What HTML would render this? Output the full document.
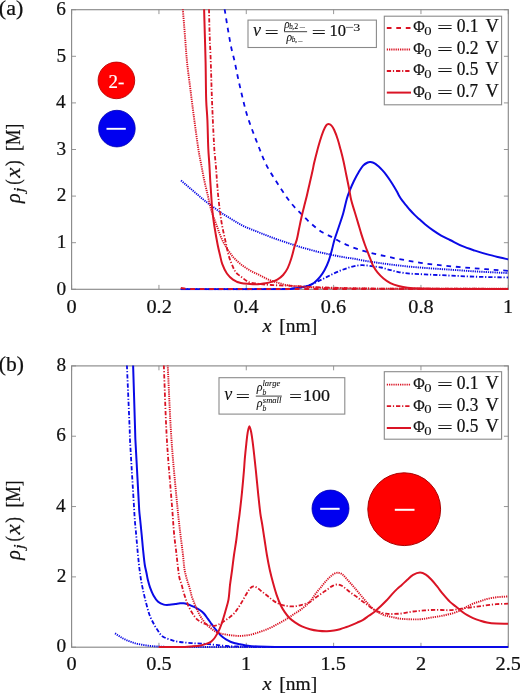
<!DOCTYPE html><html><head><meta charset="utf-8"><title>Density profiles</title>
<style>html,body{margin:0;padding:0;background:#fff;overflow:hidden;width:520px;height:695px;}svg{display:block;}text{font-family:'Liberation Serif', serif;fill:#111;stroke:#111;stroke-width:0.22px;}.it{font-style:italic;}</style></head><body>
<svg width="520" height="695" viewBox="0 0 520 695">
<rect width="520" height="695" fill="#fff"/>
<defs><clipPath id="ca"><rect x="71.6" y="9.2" width="436.7" height="281"/></clipPath><clipPath id="cb"><rect x="71.6" y="365.4" width="436.7" height="282.6"/></clipPath></defs>
<text transform="translate(-1.17,14.6) scale(1.101,1)" font-size="20">(a)</text>
<rect x="71.6" y="9.7" width="436.7" height="279.6" fill="none" stroke="#8a8a8a" stroke-width="1.15"/>
<path d="M71.6,289.3v-4.4M71.6,9.7v4.4" stroke="#8a8a8a" stroke-width="0.9"/>
<path d="M158.94,289.3v-4.4M158.94,9.7v4.4" stroke="#8a8a8a" stroke-width="0.9"/>
<path d="M246.28,289.3v-4.4M246.28,9.7v4.4" stroke="#8a8a8a" stroke-width="0.9"/>
<path d="M333.62,289.3v-4.4M333.62,9.7v4.4" stroke="#8a8a8a" stroke-width="0.9"/>
<path d="M420.96,289.3v-4.4M420.96,9.7v4.4" stroke="#8a8a8a" stroke-width="0.9"/>
<path d="M508.3,289.3v-4.4M508.3,9.7v4.4" stroke="#8a8a8a" stroke-width="0.9"/>
<path d="M71.6,289.3h4.4M508.3,289.3h-4.4" stroke="#8a8a8a" stroke-width="0.9"/>
<path d="M71.6,242.7h4.4M508.3,242.7h-4.4" stroke="#8a8a8a" stroke-width="0.9"/>
<path d="M71.6,196.1h4.4M508.3,196.1h-4.4" stroke="#8a8a8a" stroke-width="0.9"/>
<path d="M71.6,149.5h4.4M508.3,149.5h-4.4" stroke="#8a8a8a" stroke-width="0.9"/>
<path d="M71.6,102.9h4.4M508.3,102.9h-4.4" stroke="#8a8a8a" stroke-width="0.9"/>
<path d="M71.6,56.3h4.4M508.3,56.3h-4.4" stroke="#8a8a8a" stroke-width="0.9"/>
<path d="M71.6,9.7h4.4M508.3,9.7h-4.4" stroke="#8a8a8a" stroke-width="0.9"/>
<g clip-path="url(#ca)">
<path d="M180.8,289.2C207.2,289.2 233.6,289.27 260,289.2C270,289.17 280.03,289.36 290,288.9C293.86,288.72 297.69,287.98 301.5,287.3C303.86,286.88 306.26,286.41 308.5,285.6C310.49,284.88 312.52,283.97 314.2,282.7C316.35,281.07 318.28,279.01 320,276.9C321.74,274.77 323.29,272.42 324.6,270C326.19,267.06 327.53,263.94 328.7,260.8C329.83,257.77 330.64,254.62 331.5,251.5C332.54,247.69 333.29,243.79 334.4,240C335.62,235.86 337.14,231.8 338.5,227.7C340.04,223.07 341.75,218.49 343.1,213.8C344.55,208.75 345.46,203.55 346.9,198.5C347.69,195.75 348.74,193.06 349.8,190.4C351.04,187.3 352.34,184.2 353.8,181.2C355.24,178.24 356.81,175.33 358.5,172.5C359.91,170.13 361.26,167.6 363.1,165.6C364.33,164.26 366.06,163.26 367.7,162.5C368.56,162.1 369.65,161.99 370.6,162.1C371.95,162.26 373.41,162.64 374.6,163.3C376.11,164.14 377.4,165.43 378.7,166.6C379.96,167.73 381.16,168.95 382.3,170.2C383.66,171.68 384.97,173.21 386.2,174.8C387.54,176.54 388.78,178.37 390,180.2C391.31,182.17 392.57,184.18 393.8,186.2C394.87,187.95 395.91,189.71 396.9,191.5C397.71,192.97 398.35,194.55 399.2,196C400.15,197.62 401.18,199.2 402.3,200.7C403.51,202.33 404.9,203.83 406.2,205.4C407.47,206.93 408.68,208.51 410,210C411.48,211.68 413.01,213.33 414.6,214.9C416.08,216.36 417.65,217.72 419.2,219.1C421.12,220.82 423,222.58 425,224.2C427.64,226.34 430.32,228.44 433.1,230.4C435.72,232.24 438.41,234.02 441.2,235.6C444.05,237.22 447.06,238.54 450,240C454.16,242.07 458.23,244.39 462.5,246.2C466.56,247.92 470.8,249.22 475,250.6C479.14,251.96 483.3,253.24 487.5,254.4C491.64,255.54 495.83,256.5 500,257.5C502.76,258.16 505.53,258.77 508.3,259.4" fill="none" stroke="#0a0ae6" stroke-width="2.0" stroke-linejoin="round"/>
<path d="M180.8,289.2C207.2,289.2 233.6,289.32 260,289.2C270,289.15 280.02,289.16 290,288.7C293.85,288.52 297.7,287.94 301.5,287.3C303.86,286.9 306.24,286.38 308.5,285.6C311.24,284.65 313.86,283.33 316.5,282.1C319.23,280.83 321.9,279.44 324.6,278.1C327.67,276.57 330.7,274.95 333.8,273.5C336.46,272.25 339.16,271.07 341.9,270C344.56,268.97 347.27,268.03 350,267.2C351.9,266.63 353.84,266.14 355.8,265.8C357.68,265.47 359.6,265.25 361.5,265.2C363.43,265.15 365.37,265.32 367.3,265.5C369.24,265.68 371.17,266.02 373.1,266.3C375.8,266.69 378.54,266.92 381.2,267.5C383.91,268.09 386.52,269.09 389.2,269.8C392.29,270.62 395.36,271.53 398.5,272.1C402.3,272.79 406.15,273.27 410,273.6C414.98,274.03 420,274.15 425,274.4C433.6,274.82 442.2,275.2 450.8,275.6C458.87,275.97 466.93,276.43 475,276.7C486.1,277.07 497.2,277.23 508.3,277.5" fill="none" stroke="#0a0ae6" stroke-width="1.8" stroke-dasharray="4.3 1.8 1.2 1.9" stroke-linejoin="round"/>
<path d="M181,180.5C182.67,181.93 184.33,183.37 186,184.8C187.8,186.34 189.6,187.87 191.4,189.4C193.2,190.93 195,192.47 196.8,194C198.6,195.53 200.37,197.1 202.2,198.6C203.94,200.03 205.71,201.42 207.5,202.8C209.05,203.99 210.63,205.14 212.2,206.3C213.89,207.54 215.58,208.79 217.3,210C219.22,211.35 221.13,212.72 223.1,214C224.97,215.22 226.9,216.34 228.8,217.5C230.73,218.67 232.66,219.85 234.6,221C236.53,222.15 238.43,223.33 240.4,224.4C242.3,225.43 244.23,226.41 246.2,227.3C248.07,228.14 250,228.84 251.9,229.6C254.6,230.67 257.3,231.74 260,232.8C263.83,234.31 267.64,235.86 271.5,237.3C275.34,238.73 279.22,240.07 283.1,241.4C286.92,242.71 290.75,243.98 294.6,245.2C298.45,246.42 302.31,247.61 306.2,248.7C310.78,249.98 315.38,251.19 320,252.3C323.81,253.22 327.66,254 331.5,254.8C335.36,255.6 339.22,256.43 343.1,257.1C346.92,257.76 350.78,258.16 354.6,258.8C356.91,259.19 359.19,259.79 361.5,260.2C365.36,260.89 369.23,261.51 373.1,262.1C376.93,262.68 380.76,263.19 384.6,263.7C388.46,264.22 392.33,264.74 396.2,265.2C400.79,265.74 405.39,266.28 410,266.7C416.66,267.31 423.33,267.81 430,268.3C436.93,268.81 443.87,269.22 450.8,269.7C458.87,270.26 466.93,270.92 475,271.4C486.09,272.06 497.2,272.53 508.3,273.1" fill="none" stroke="#0a0ae6" stroke-width="1.9" stroke-dasharray="1.25 0.95" stroke-linejoin="round"/>
<path d="M224.6,9C225.77,16.13 226.87,23.28 228.1,30.4C229.17,36.55 230.22,42.7 231.5,48.8C232.32,52.7 233.53,56.51 234.4,60.4C235.67,66.08 236.67,71.81 237.9,77.5C239.17,83.35 240.51,89.18 241.9,95C243.18,100.38 244.43,105.77 245.9,111.1C246.9,114.74 248.05,118.34 249.3,121.9C251.51,128.18 253.85,134.41 256.3,140.6C259.52,148.71 262.41,157.01 266.3,164.8C269.78,171.78 274.26,178.26 278.4,184.9C280.5,188.26 282.75,191.53 285,194.8C286.49,196.96 287.98,199.13 289.6,201.2C291.45,203.57 293.37,205.89 295.4,208.1C297.23,210.09 299.28,211.88 301.2,213.8C303.52,216.12 305.7,218.57 308.1,220.8C311.07,223.57 314.15,226.25 317.3,228.8C318.88,230.08 320.54,231.29 322.3,232.3C325.27,233.99 328.47,235.3 331.5,236.9C334.64,238.56 337.63,240.51 340.8,242.1C343.8,243.61 346.89,244.93 350,246.2C353.03,247.43 356.09,248.6 359.2,249.6C362.62,250.7 366.12,251.58 369.6,252.5C372.66,253.31 375.72,254.08 378.8,254.8C381.89,255.52 385,256.13 388.1,256.8C391.17,257.46 394.22,258.2 397.3,258.8C400.75,259.47 404.23,260.01 407.7,260.6C413.06,261.51 418.41,262.6 423.8,263.3C433.51,264.56 443.26,265.54 453,266.5C459.49,267.14 466,267.57 472.5,268.1C478.97,268.63 485.43,269.21 491.9,269.7C497.36,270.11 502.83,270.43 508.3,270.8" fill="none" stroke="#0a0ae6" stroke-width="1.8" stroke-dasharray="4.7 4.8" stroke-linejoin="round"/>
<path d="M182.8,9C183.47,17.27 184.14,25.53 184.8,33.8C185.57,43.43 186.14,53.09 187.1,62.7C187.91,70.79 189.09,78.83 190.1,86.9C191.22,95.87 192.31,104.84 193.5,113.8C195.11,125.87 196.67,137.96 198.5,150C199.27,155.03 200.35,160 201.3,165C202.25,170 203.14,175.02 204.2,180C205.27,185.02 206.53,190 207.7,195C208.87,200 209.76,205.08 211.2,210C212.69,215.08 214.66,220.03 216.5,225C218.36,230.03 219.91,235.22 222.3,240C224.91,245.22 227.96,250.37 231.5,255C234.13,258.44 237.46,261.42 240.8,264.2C243.63,266.56 246.82,268.53 250,270.4C252.95,272.13 256.13,273.47 259.2,275C262.3,276.54 265.31,278.27 268.5,279.6C271.48,280.84 274.6,281.79 277.7,282.7C280.73,283.59 283.79,284.46 286.9,285C291.23,285.76 295.62,286.24 300,286.6C306.65,287.14 313.33,287.46 320,287.7C330,288.06 340,288.27 350,288.4C366.67,288.61 383.33,288.66 400,288.7C436.1,288.79 472.2,288.77 508.3,288.8" fill="none" stroke="#da1425" stroke-width="1.9" stroke-dasharray="1.25 0.95" stroke-linejoin="round"/>
<path d="M209,9C209.2,17.27 209.32,25.54 209.6,33.8C209.89,42.54 210.39,51.26 210.7,60C211.19,73.46 211.45,86.94 212,100.4C212.65,116.54 213.35,132.68 214.3,148.8C214.62,154.21 215.35,159.6 215.8,165C216.22,170 216.52,175 216.9,180C217.28,185 217.62,190.01 218.1,195C218.58,200.01 219.15,205.01 219.8,210C220.45,215.01 221.08,220.03 222,225C223.24,231.7 224.86,238.34 226.3,245C227.02,248.34 227.55,251.73 228.5,255C229.48,258.4 230.71,261.75 232.1,265C233.21,267.58 234.33,270.3 236,272.5C237.23,274.13 239.14,275.25 240.8,276.5C243.3,278.38 245.7,280.63 248.5,281.9C250.84,282.96 253.61,283.15 256.2,283.5C261.27,284.18 266.39,284.65 271.5,285C277.66,285.42 283.84,285.5 290,285.8C296.67,286.13 303.33,286.62 310,286.9C320,287.32 330,287.66 340,287.9C353.33,288.22 366.67,288.53 380,288.6C422.77,288.83 465.53,288.73 508.3,288.8" fill="none" stroke="#da1425" stroke-width="1.8" stroke-dasharray="4.3 1.8 1.2 1.9" stroke-linejoin="round"/>
<path d="M204.1,9C204.33,17.27 204.57,25.53 204.8,33.8C205.07,43.43 205.4,53.07 205.6,62.7C205.86,75.27 205.81,87.84 206.2,100.4C206.41,106.94 207.12,113.46 207.4,120C207.82,129.59 207.87,139.21 208.3,148.8C208.54,154.21 209.07,159.6 209.4,165C209.7,170 209.9,175 210.2,180C210.5,185 210.85,190 211.2,195C211.55,200 211.8,205.01 212.3,210C212.8,215.01 213.43,220.02 214.2,225C215.23,231.69 216.42,238.36 217.7,245C218.35,248.36 219.2,251.67 220,255C220.74,258.07 221.2,261.26 222.3,264.2C223.5,267.42 224.95,270.7 226.9,273.5C228.52,275.83 230.67,278.01 233,279.6C235.3,281.17 238.09,282.3 240.8,283C243.75,283.76 246.93,283.76 250,284C251.99,284.16 254,284.2 256,284.2C257.33,284.2 258.67,284.12 260,284C261.94,283.82 263.89,283.65 265.8,283.3C267.72,282.95 269.64,282.5 271.5,281.9C273.48,281.26 275.53,280.65 277.3,279.6C279.4,278.35 281.46,276.81 283.1,275C284.93,272.97 286.47,270.56 287.7,268.1C289.17,265.16 290.21,261.96 291.2,258.8C292.51,254.66 293.39,250.38 294.6,246.2C295.29,243.84 296.28,241.57 296.9,239.2C297.68,236.17 298.16,233.07 298.8,230C299.6,226.17 300.34,222.32 301.2,218.5C302.07,214.62 303.05,210.76 304,206.9C304.95,203.06 305.98,199.24 306.9,195.4C307.91,191.18 308.83,186.93 309.8,182.7C310.77,178.47 311.77,174.24 312.7,170C313.17,167.84 313.5,165.65 314,163.5C314.9,159.62 315.88,155.75 316.9,151.9C317.82,148.42 318.74,144.94 319.8,141.5C320.87,138.04 321.96,134.56 323.3,131.2C324.1,129.2 324.98,127.1 326.2,125.4C326.71,124.7 327.71,124 328.5,124C329.41,124 330.61,124.67 331.3,125.4C332.51,126.67 333.44,128.36 334.2,130C335.57,132.96 336.68,136.08 337.7,139.2C338.82,142.62 339.68,146.12 340.6,149.6C341.62,153.45 342.63,157.31 343.5,161.2C344.53,165.78 345.36,170.4 346.3,175C347.26,179.73 348.27,184.46 349.2,189.2C349.9,192.79 350.34,196.45 351.2,200C352.14,203.88 353.46,207.67 354.6,211.5C355.76,215.37 356.94,219.23 358.1,223.1C359.24,226.93 360.3,230.79 361.5,234.6C362.6,238.09 363.77,241.56 365,245C366.1,248.09 367.32,251.14 368.5,254.2C369.25,256.14 370.03,258.07 370.8,260C371.57,261.93 372.11,263.98 373.1,265.8C374.41,268.22 375.96,270.57 377.7,272.7C379.42,274.81 381.39,276.78 383.5,278.5C385.63,280.24 387.95,281.87 390.4,283.1C392.95,284.37 395.74,285.25 398.5,286C401.51,286.82 404.6,287.43 407.7,287.8C411.77,288.29 415.89,288.46 420,288.6C426.66,288.83 433.33,288.88 440,288.9C462.77,288.98 485.53,288.9 508.3,288.9" fill="none" stroke="#da1425" stroke-width="2.0" stroke-linejoin="round"/>
<path d="M180.8,288C182.53,288.27 184.25,288.72 186,288.8C190.65,289.02 195.33,288.9 200,288.9C302.77,288.93 405.53,288.9 508.3,288.9" fill="none" stroke="#da1425" stroke-width="2.0" stroke-dasharray="4.7 4.8" stroke-linejoin="round"/>
</g>
<text transform="translate(66.53,312.8) scale(1.050,1)" font-size="19.3">0</text>
<text transform="translate(146.45,312.8) scale(1.050,1)" font-size="19.3">0.2</text>
<text transform="translate(233.39,312.8) scale(1.050,1)" font-size="19.3">0.4</text>
<text transform="translate(320.87,312.8) scale(1.050,1)" font-size="19.3">0.6</text>
<text transform="translate(408.29,312.8) scale(1.050,1)" font-size="19.3">0.8</text>
<text transform="translate(502.95,312.8) scale(1.050,1)" font-size="19.3">1</text>
<text transform="translate(56.39,294.5)" font-size="19.3">0</text>
<text transform="translate(56.81,247.9)" font-size="19.3">1</text>
<text transform="translate(56.71,201.3)" font-size="19.3">2</text>
<text transform="translate(56.4,154.7)" font-size="19.3">3</text>
<text transform="translate(55.95,108.1)" font-size="19.3">4</text>
<text transform="translate(56.4,61.5)" font-size="19.3">5</text>
<text transform="translate(56.22,14.9)" font-size="19.3">6</text>
<text transform="translate(262.55,331.8) scale(1.079,1)" font-size="19" class="it">x</text>
<text transform="translate(279.35,331.8) scale(1.026,1)" font-size="19">[nm]</text>
<text transform="translate(20.4,203.09) rotate(-90)" font-size="20" class="it">ρ</text>
<text transform="translate(23.5,192.22) rotate(-90) scale(1.207,1)" font-size="13.8" class="it">j</text>
<text transform="translate(20.4,184.84) rotate(-90) scale(0.817,1)" font-size="20.5">(</text>
<text transform="translate(20.4,177.82) rotate(-90) scale(1.159,1)" font-size="20" class="it">x</text>
<text transform="translate(20.4,166.04) rotate(-90) scale(0.817,1)" font-size="20.5">)</text>
<text transform="translate(20.4,150.89) rotate(-90) scale(0.871,1)" font-size="20">[M]</text>
<rect x="248" y="20.1" width="128.4" height="27.4" fill="#fff" stroke="#8a8a8a" stroke-width="1.1"/>
<text transform="translate(252.98,35.8)" font-size="18" class="it" style="stroke-width:0.05px">ν</text>
<text transform="translate(264.68,38.14) scale(1.441,1)" font-size="17">=</text>
<text transform="translate(284.29,27.6) scale(0.947,1)" font-size="12" class="it" style="stroke-width:0.08px">ρ</text>
<text transform="translate(289.14,29.2) scale(0.806,1)" font-size="8.6" class="it" style="stroke-width:0.08px">b</text>
<text transform="translate(292.3,29.2) scale(0.921,1)" font-size="8.6" style="stroke-width:0.08px">,2</text>
<text transform="translate(299.44,29.84) scale(1.299,1)" font-size="8.6" style="stroke-width:0.08px">−</text>
<path d="M284,31.7H307.1" stroke="#111" stroke-width="0.8"/>
<text transform="translate(286.5,41.4) scale(0.982,1)" font-size="12" class="it" style="stroke-width:0.08px">ρ</text>
<text transform="translate(291.73,41.6) scale(0.833,1)" font-size="8.6" class="it" style="stroke-width:0.08px">b</text>
<text transform="translate(294.97,41.6)" font-size="8.6" style="stroke-width:0.08px">,</text>
<text transform="translate(298.04,43.74) scale(1.075,1)" font-size="8.6" style="stroke-width:0.08px">−</text>
<text transform="translate(311.66,38.14) scale(1.466,1)" font-size="17">=</text>
<text transform="translate(329.55,36.4) scale(0.958,1)" font-size="17.2">10</text>
<text transform="translate(345.33,31.06) scale(1.289,1)" font-size="12" style="stroke-width:0.08px">−</text>
<text transform="translate(353.33,30.7) scale(1.377,1)" font-size="10.2" style="stroke-width:0.08px">3</text>
<rect x="384.3" y="16.2" width="117.3" height="88.6" fill="#fff" stroke="#8a8a8a" stroke-width="1.1"/>
<path d="M386.8,28H411" stroke="#da1425" stroke-width="1.8" stroke-dasharray="4.7 4.8"/>
<text transform="translate(413.23,32.3) scale(0.890,1)" font-size="17.6">Φ</text>
<text transform="translate(424.24,35.2) scale(1.272,1)" font-size="11.5" style="stroke-width:0.08px">0</text>
<text transform="translate(437.34,33.31) scale(1.560,1)" font-size="17.5">=</text>
<text transform="translate(456.73,32.3) scale(0.985,1)" font-size="17.8">0.1</text>
<text transform="translate(485.39,32.3) scale(1.036,1)" font-size="17.8">V</text>
<path d="M386.8,49.5H411" stroke="#da1425" stroke-width="1.8" stroke-dasharray="1.25 0.95"/>
<text transform="translate(413.23,53.8) scale(0.890,1)" font-size="17.6">Φ</text>
<text transform="translate(424.24,56.7) scale(1.272,1)" font-size="11.5" style="stroke-width:0.08px">0</text>
<text transform="translate(437.34,54.81) scale(1.560,1)" font-size="17.5">=</text>
<text transform="translate(456.73,53.8) scale(0.981,1)" font-size="17.8">0.2</text>
<text transform="translate(485.39,53.8) scale(1.036,1)" font-size="17.8">V</text>
<path d="M386.8,71H411" stroke="#da1425" stroke-width="1.8" stroke-dasharray="4.3 1.8 1.2 1.9"/>
<text transform="translate(413.23,75.3) scale(0.890,1)" font-size="17.6">Φ</text>
<text transform="translate(424.24,78.2) scale(1.272,1)" font-size="11.5" style="stroke-width:0.08px">0</text>
<text transform="translate(437.34,76.31) scale(1.560,1)" font-size="17.5">=</text>
<text transform="translate(456.74,75.3) scale(0.968,1)" font-size="17.8">0.5</text>
<text transform="translate(485.39,75.3) scale(1.036,1)" font-size="17.8">V</text>
<path d="M386.8,92.6H411" stroke="#da1425" stroke-width="2.0"/>
<text transform="translate(413.23,96.9) scale(0.890,1)" font-size="17.6">Φ</text>
<text transform="translate(424.24,99.8) scale(1.272,1)" font-size="11.5" style="stroke-width:0.08px">0</text>
<text transform="translate(437.34,97.91) scale(1.560,1)" font-size="17.5">=</text>
<text transform="translate(456.75,96.9) scale(0.959,1)" font-size="17.8">0.7</text>
<text transform="translate(485.39,96.9) scale(1.036,1)" font-size="17.8">V</text>
<circle cx="116.4" cy="80.4" r="18.3" fill="#f00" stroke="#b00" stroke-width="0.9"/>
<text transform="translate(108.57,88) scale(0.959,1)" font-size="19.8" style="fill:#fff;stroke:#fff;stroke-width:0.15px">2-</text>
<circle cx="116.9" cy="128.6" r="18.3" fill="#0000f0" stroke="#0000b0" stroke-width="0.8"/>
<path d="M106.5,128.8H125.8" stroke="#fff" stroke-width="1.9"/>
<text transform="translate(-1.15,370.9) scale(1.076,1)" font-size="20">(b)</text>
<rect x="71.6" y="365.9" width="436.7" height="281.3" fill="none" stroke="#8a8a8a" stroke-width="1.15"/>
<path d="M71.6,647.2v-4.4M71.6,365.9v4.4" stroke="#8a8a8a" stroke-width="0.9"/>
<path d="M158.94,647.2v-4.4M158.94,365.9v4.4" stroke="#8a8a8a" stroke-width="0.9"/>
<path d="M246.28,647.2v-4.4M246.28,365.9v4.4" stroke="#8a8a8a" stroke-width="0.9"/>
<path d="M333.62,647.2v-4.4M333.62,365.9v4.4" stroke="#8a8a8a" stroke-width="0.9"/>
<path d="M420.96,647.2v-4.4M420.96,365.9v4.4" stroke="#8a8a8a" stroke-width="0.9"/>
<path d="M508.3,647.2v-4.4M508.3,365.9v4.4" stroke="#8a8a8a" stroke-width="0.9"/>
<path d="M71.6,647.2h4.4M508.3,647.2h-4.4" stroke="#8a8a8a" stroke-width="0.9"/>
<path d="M71.6,576.88h4.4M508.3,576.88h-4.4" stroke="#8a8a8a" stroke-width="0.9"/>
<path d="M71.6,506.55h4.4M508.3,506.55h-4.4" stroke="#8a8a8a" stroke-width="0.9"/>
<path d="M71.6,436.23h4.4M508.3,436.23h-4.4" stroke="#8a8a8a" stroke-width="0.9"/>
<path d="M71.6,365.9h4.4M508.3,365.9h-4.4" stroke="#8a8a8a" stroke-width="0.9"/>
<g clip-path="url(#cb)">
<path d="M115,633.4C117.7,635.1 120.25,637.09 123.1,638.5C126.79,640.32 130.66,641.92 134.6,643.1C138.36,644.22 142.3,644.83 146.2,645.4C150,645.96 153.86,646.26 157.7,646.5C161.79,646.76 165.9,646.89 170,646.9C282.76,647.06 395.53,646.97 508.3,647" fill="none" stroke="#0a0ae6" stroke-width="1.9" stroke-dasharray="1.25 0.95" stroke-linejoin="round"/>
<path d="M126.9,365C127.83,386.67 128.8,408.33 129.7,430C129.84,433.33 129.81,436.67 130,440C131.31,463.34 132.8,486.67 134.2,510C134.4,513.33 134.53,516.67 134.8,520C135.2,525.01 135.75,530 136.2,535C136.65,540 137.03,545 137.5,550C137.97,555 138.48,560 139,565C139.18,566.67 139.37,568.34 139.6,570C140.13,573.84 140.62,577.69 141.3,581.5C141.99,585.39 142.83,589.25 143.7,593.1C144.57,596.95 145.46,600.8 146.5,604.6C147.56,608.5 148.54,612.45 150,616.2C151.24,619.38 152.96,622.39 154.6,625.4C155.46,626.99 156.45,628.53 157.5,630C159.02,632.13 160.19,634.8 162.3,636.2C165.63,638.4 169.89,639.52 173.8,640.8C175.79,641.45 177.91,641.73 180,642C183.81,642.5 187.66,642.82 191.5,643.1C195.36,643.38 199.24,643.42 203.1,643.7C206.94,643.98 210.77,644.42 214.6,644.8C218.47,645.19 222.32,645.74 226.2,646C230.79,646.31 235.4,646.38 240,646.5C246.67,646.68 253.33,646.89 260,646.9C342.77,647.05 425.53,646.97 508.3,647" fill="none" stroke="#0a0ae6" stroke-width="1.8" stroke-dasharray="4.3 1.8 1.2 1.9" stroke-linejoin="round"/>
<path d="M133.1,365C133.77,386.67 134.44,408.33 135.1,430C135.2,433.33 135.23,436.67 135.4,440C136.6,463.34 137.8,486.68 139.2,510C139.4,513.34 139.87,516.67 140.2,520C140.7,525 141.22,530 141.7,535C142.18,540 142.58,545.01 143.1,550C143.62,555.01 144.06,560.03 144.8,565C145.2,567.69 145.95,570.33 146.5,573C146.92,575.06 147.2,577.16 147.7,579.2C148.37,581.92 149.06,584.66 150,587.3C150.99,590.06 152.07,592.85 153.5,595.4C154.77,597.65 156.21,600.01 158.1,601.7C159.65,603.08 161.79,604.06 163.8,604.6C165.62,605.09 167.68,604.9 169.6,604.8C171.54,604.7 173.47,604.28 175.4,604C176.94,603.78 178.46,603.43 180,603.3C181.16,603.2 182.35,603.18 183.5,603.3C184.65,603.42 185.79,603.67 186.9,604C188.16,604.37 189.38,604.9 190.6,605.4C192.15,606.03 193.71,606.65 195.2,607.4C196.77,608.19 198.36,608.99 199.8,610C201.26,611.03 202.7,612.18 203.9,613.5C205.4,615.15 206.58,617.09 207.9,618.9C208.88,620.25 209.83,621.64 210.8,623C211.76,624.34 212.7,625.69 213.7,627C214.6,628.19 215.55,629.35 216.5,630.5C217.45,631.65 218.39,632.8 219.4,633.9C220.33,634.9 221.25,635.93 222.3,636.8C223.58,637.86 224.97,638.84 226.4,639.7C227.67,640.47 229.02,641.14 230.4,641.7C231.89,642.31 233.44,642.79 235,643.2C236.64,643.63 238.33,643.87 240,644.2C242.67,644.73 245.31,645.44 248,645.8C251.31,646.24 254.66,646.45 258,646.6C263.66,646.85 269.33,646.99 275,647C352.77,647.12 430.53,647 508.3,647" fill="none" stroke="#0a0ae6" stroke-width="2.0" stroke-linejoin="round"/>
<path d="M167.7,365C168.97,390 169.78,415.03 171.5,440C173.11,463.37 175.49,486.68 177.7,510C178.49,518.35 179.52,526.67 180.5,535C181.29,541.67 182.22,548.33 183,555C183.59,559.99 183.76,565.05 184.6,570C185.26,573.89 186.46,577.69 187.5,581.5C187.82,582.69 188.33,583.82 188.7,585C189.3,586.92 189.89,588.85 190.4,590.8C190.72,592.02 190.86,593.29 191.2,594.5C191.69,596.22 192.29,597.91 192.9,599.6C193.46,601.15 194.07,602.68 194.7,604.2C195.34,605.75 196.02,607.27 196.7,608.8C197.35,610.27 197.97,611.77 198.7,613.2C199.4,614.57 200.19,615.89 201,617.2C201.72,618.36 202.48,619.51 203.3,620.6C204.21,621.81 205.14,623.02 206.2,624.1C207.64,625.56 209.18,626.94 210.8,628.2C212.61,629.61 214.48,631.05 216.5,632.1C217.94,632.85 219.6,633.21 221.2,633.6C223.47,634.15 225.79,634.55 228.1,634.9C230.39,635.25 232.69,635.52 235,635.7C237.06,635.86 239.14,636.02 241.2,635.9C244.14,635.72 247.12,635.41 250,634.8C253.12,634.14 256.17,633.1 259.2,632.1C262.33,631.07 265.48,630.02 268.5,628.7C271.65,627.32 274.67,625.63 277.7,624C280.8,622.33 283.89,620.63 286.9,618.8C289.26,617.36 291.49,615.73 293.8,614.2C296.13,612.66 298.61,611.32 300.8,609.6C304.01,607.09 307.23,604.47 310,601.5C312.23,599.1 313.8,596.11 315.8,593.5C317.63,591.11 319.58,588.82 321.5,586.5C323.42,584.19 325.23,581.76 327.3,579.6C329.09,577.73 330.97,575.81 333.1,574.4C334.44,573.51 336.17,572.7 337.7,572.7C339.23,572.7 341.02,573.44 342.3,574.4C344.49,576.04 346.2,578.44 348.1,580.5C350.03,582.6 351.93,584.74 353.8,586.9C355.77,589.17 357.67,591.49 359.6,593.8C361.54,596.13 363.41,598.52 365.4,600.8C367.28,602.95 369.13,605.14 371.2,607.1C372.97,608.78 374.87,610.37 376.9,611.7C378.7,612.87 380.7,613.81 382.7,614.6C384.57,615.34 386.55,615.81 388.5,616.3C390.38,616.77 392.3,617.12 394.2,617.5C396.46,617.95 398.7,618.64 401,618.8C407.3,619.24 413.69,619.54 420,619.3C423.43,619.17 426.8,618.23 430.2,617.7C433.8,617.13 437.42,616.67 441,616C444.02,615.44 447.02,614.74 450,614C451.95,613.51 453.91,612.99 455.8,612.3C457.74,611.59 459.65,610.73 461.5,609.8C463.48,608.8 465.33,607.53 467.3,606.5C469.2,605.5 471.12,604.51 473.1,603.7C475.35,602.78 477.69,602.09 480,601.3C482.29,600.52 484.55,599.58 486.9,599C489.95,598.25 493.08,597.68 496.2,597.3C500.21,596.81 504.27,596.7 508.3,596.4" fill="none" stroke="#da1425" stroke-width="1.9" stroke-dasharray="1.25 0.95" stroke-linejoin="round"/>
<path d="M163.8,365C164.83,390 165.44,415.03 166.9,440C168.27,463.36 170.51,486.67 172.3,510C172.94,518.33 173.43,526.68 174.2,535C174.66,540.01 175.42,545 176,550C176.58,555 177.09,560.01 177.7,565C178.22,569.24 178.57,573.53 179.4,577.7C179.9,580.19 180.99,582.55 181.7,585C182.36,587.28 182.82,589.62 183.5,591.9C184.45,595.06 185.5,598.19 186.6,601.3C187.3,603.26 188.01,605.22 188.9,607.1C189.75,608.89 190.76,610.61 191.8,612.3C192.86,614.01 193.92,615.76 195.2,617.3C196.22,618.53 197.43,619.64 198.7,620.6C199.93,621.54 201.31,622.33 202.7,623C204.07,623.66 205.54,624.17 207,624.6C208.6,625.07 210.25,625.5 211.9,625.7C213.05,625.84 214.27,625.81 215.4,625.6C216.57,625.38 217.71,624.9 218.8,624.4C220.01,623.84 221.16,623.1 222.3,622.4C223.49,621.67 224.65,620.9 225.8,620.1C226.95,619.3 228.09,618.47 229.2,617.6C230.39,616.67 231.59,615.72 232.7,614.7C233.62,613.86 234.56,613 235.3,612C237.4,609.14 239.33,606.13 241.2,603.1C242.83,600.46 244.18,597.65 245.8,595C247.24,592.65 248.61,590.12 250.4,588.1C251.17,587.22 252.43,586.37 253.5,586.3C254.6,586.23 255.86,587.06 256.9,587.7C258.53,588.7 259.98,590.02 261.5,591.2C263.45,592.72 265.37,594.27 267.3,595.8C269.23,597.33 271.08,598.99 273.1,600.4C274.91,601.66 276.8,602.89 278.8,603.8C280.63,604.63 282.63,605.16 284.6,605.6C286.5,606.03 288.46,606.3 290.4,606.4C292.32,606.5 294.29,606.47 296.2,606.2C298.13,605.93 300.03,605.37 301.9,604.8C304.63,603.97 307.5,603.31 310,602C312.14,600.88 313.83,598.95 315.8,597.5C317.67,596.12 319.6,594.84 321.5,593.5C323.44,592.14 325.34,590.73 327.3,589.4C329.21,588.1 331.04,586.57 333.1,585.6C334.51,584.94 336.18,584.43 337.7,584.5C339.25,584.57 340.89,585.27 342.3,586C343.59,586.67 344.65,587.78 345.8,588.7C347.71,590.22 349.55,591.84 351.5,593.3C353.38,594.71 355.41,595.9 357.3,597.3C359.28,598.77 361.13,600.41 363.1,601.9C364.97,603.31 366.89,604.65 368.8,606C370.72,607.35 372.55,608.89 374.6,610C376.42,610.99 378.42,611.67 380.4,612.3C382.29,612.9 384.24,613.41 386.2,613.7C388.07,613.98 390,614.02 391.9,614C395.1,613.96 398.32,613.87 401.5,613.5C405.39,613.04 409.21,612.02 413.1,611.5C416.91,610.99 420.76,610.68 424.6,610.4C428.46,610.12 432.33,609.83 436.2,609.8C440.8,609.76 445.42,610.42 450,610.2C453.85,610.02 457.66,609.11 461.5,608.6C465.36,608.08 469.23,607.6 473.1,607.1C476.93,606.6 480.76,606.08 484.6,605.6C488.46,605.11 492.32,604.51 496.2,604.2C500.22,603.88 504.27,603.87 508.3,603.7" fill="none" stroke="#da1425" stroke-width="1.8" stroke-dasharray="4.3 1.8 1.2 1.9" stroke-linejoin="round"/>
<path d="M158.7,647C167.47,647 176.24,647.13 185,647C187.17,646.97 189.34,646.72 191.5,646.5C194.61,646.19 197.73,645.93 200.8,645.4C202.4,645.13 203.97,644.65 205.5,644.1C207.31,643.45 209.21,642.83 210.8,641.8C212.11,640.96 213.22,639.73 214.2,638.5C215.32,637.09 216.21,635.48 217.1,633.9C217.94,632.41 218.71,630.87 219.4,629.3C220.24,627.4 221,625.46 221.7,623.5C222.37,621.62 222.92,619.71 223.5,617.8C224.09,615.87 224.67,613.94 225.2,612C226.33,607.88 227.75,603.8 228.5,599.6C229.35,594.8 229.41,589.86 230,585C230.61,579.99 231.43,575 232.1,570C232.77,565 233.3,559.99 234,555C234.7,549.99 235.62,545.01 236.3,540C236.98,535.01 237.47,530 238.1,525C238.57,521.26 239.15,517.54 239.6,513.8C240.42,506.91 241.21,500.01 241.9,493.1C242.67,485.41 243.35,477.7 244,470C244.32,466.27 244.47,462.53 244.8,458.8C245.24,453.79 245.75,448.79 246.3,443.8C246.72,439.96 247.03,436.09 247.7,432.3C248.07,430.23 248.82,426.2 249.4,426.2C249.98,426.2 250.79,430.23 251.2,432.3C251.95,436.09 252.41,439.96 252.9,443.8C253.54,448.79 254.05,453.8 254.6,458.8C255.01,462.53 255.42,466.26 255.8,470C256.59,477.7 257.29,485.4 258.1,493.1C258.83,500 259.49,506.92 260.4,513.8C260.89,517.55 261.7,521.26 262.3,525C263.1,529.99 263.83,535 264.6,540C265.37,545 266.04,550.02 266.9,555C267.77,560.02 268.7,565.03 269.8,570C270.77,574.4 271.92,578.76 273.1,583.1C274.15,586.96 275.21,590.82 276.5,594.6C277.71,598.12 279.02,601.63 280.6,605C281.72,607.4 283.11,609.7 284.6,611.9C285.98,613.94 287.47,615.97 289.2,617.7C290.93,619.43 292.96,620.92 295,622.3C297.2,623.79 299.49,625.19 301.9,626.3C304.49,627.49 307.24,628.45 310,629.2C312.61,629.91 315.31,630.38 318,630.7C320.94,631.05 323.94,631.24 326.9,631.2C329.27,631.17 331.65,630.86 334,630.5C336.02,630.19 338.03,629.73 340,629.2C341.96,628.67 343.88,627.98 345.8,627.3C347.72,626.62 349.62,625.87 351.5,625.1C353.45,624.3 355.39,623.47 357.3,622.6C359.25,621.71 361.26,620.89 363.1,619.8C365.09,618.62 366.9,617.14 368.8,615.8C370.74,614.44 372.76,613.18 374.6,611.7C376.62,610.08 378.51,608.28 380.4,606.5C382.37,604.64 384.33,602.76 386.2,600.8C388.17,598.73 389.96,596.5 391.9,594.4C393.63,592.53 395.36,590.66 397.2,588.9C398.56,587.59 400.1,586.47 401.5,585.2C403.46,583.43 405.33,581.56 407.3,579.8C409.2,578.1 410.93,576.05 413.1,574.8C415.16,573.61 417.71,572.54 420,572.5C421.94,572.47 424.1,573.52 425.8,574.6C427.93,575.95 429.73,577.94 431.5,579.8C433.57,581.97 435.42,584.36 437.3,586.7C439.28,589.16 441.07,591.78 443.1,594.2C445.31,596.84 447.53,599.51 450,601.9C451.77,603.61 453.88,604.95 455.8,606.5C457.71,608.05 459.54,609.72 461.5,611.2C463.37,612.62 465.29,614 467.3,615.2C469.15,616.3 471.11,617.26 473.1,618.1C475.35,619.06 477.67,619.86 480,620.6C482.27,621.32 484.56,622.07 486.9,622.5C489.96,623.07 493.09,623.41 496.2,623.6C500.22,623.84 504.27,623.73 508.3,623.8" fill="none" stroke="#da1425" stroke-width="2.0" stroke-linejoin="round"/>
</g>
<text transform="translate(66.53,670.3) scale(1.050,1)" font-size="19.3">0</text>
<text transform="translate(146.28,670.3) scale(1.050,1)" font-size="19.3">0.5</text>
<text transform="translate(240.93,670.3) scale(1.050,1)" font-size="19.3">1</text>
<text transform="translate(320.46,670.3) scale(1.050,1)" font-size="19.3">1.5</text>
<text transform="translate(416.01,670.3) scale(1.050,1)" font-size="19.3">2</text>
<text transform="translate(495.58,670.3) scale(1.050,1)" font-size="19.3">2.5</text>
<text transform="translate(56.39,652.4)" font-size="19.3">0</text>
<text transform="translate(56.71,582.08)" font-size="19.3">2</text>
<text transform="translate(55.95,511.75)" font-size="19.3">4</text>
<text transform="translate(56.22,441.43)" font-size="19.3">6</text>
<text transform="translate(56.39,371.1)" font-size="19.3">8</text>
<text transform="translate(262.55,689.6) scale(1.079,1)" font-size="19" class="it">x</text>
<text transform="translate(279.35,689.6) scale(1.026,1)" font-size="19">[nm]</text>
<text transform="translate(20.4,559.79) rotate(-90)" font-size="20" class="it">ρ</text>
<text transform="translate(23.5,548.92) rotate(-90) scale(1.207,1)" font-size="13.8" class="it">j</text>
<text transform="translate(20.4,541.54) rotate(-90) scale(0.817,1)" font-size="20.5">(</text>
<text transform="translate(20.4,534.52) rotate(-90) scale(1.159,1)" font-size="20" class="it">x</text>
<text transform="translate(20.4,522.74) rotate(-90) scale(0.817,1)" font-size="20.5">)</text>
<text transform="translate(20.4,507.59) rotate(-90) scale(0.871,1)" font-size="20">[M]</text>
<rect x="219" y="377.7" width="125.8" height="36.4" fill="#fff" stroke="#8a8a8a" stroke-width="1.1"/>
<text transform="translate(224.28,400)" font-size="18" class="it" style="stroke-width:0.05px">ν</text>
<text transform="translate(235.75,402.34) scale(1.479,1)" font-size="17">=</text>
<text transform="translate(256.8,391.3)" font-size="12" class="it" style="stroke-width:0.08px">ρ</text>
<text transform="translate(262.44,386.3)" font-size="8.6" class="it" style="stroke-width:0.08px">large</text>
<text transform="translate(262.42,395.1) scale(0.887,1)" font-size="8.6" class="it" style="stroke-width:0.08px">b</text>
<path d="M255.8,396.1H281.9" stroke="#111" stroke-width="0.8"/>
<text transform="translate(256.8,406.6)" font-size="12" class="it" style="stroke-width:0.08px">ρ</text>
<text transform="translate(262.8,403) scale(0.998,1)" font-size="8.6" class="it" style="stroke-width:0.08px">small</text>
<text transform="translate(262.42,411) scale(0.887,1)" font-size="8.6" class="it" style="stroke-width:0.08px">b</text>
<text transform="translate(289.19,402.34) scale(1.315,1)" font-size="17">=</text>
<text transform="translate(303.03,400.5) scale(1.041,1)" font-size="17.2">100</text>
<rect x="384.3" y="371.7" width="117.3" height="67.5" fill="#fff" stroke="#8a8a8a" stroke-width="1.1"/>
<path d="M386.8,384.7H411" stroke="#da1425" stroke-width="1.8" stroke-dasharray="1.25 0.95"/>
<text transform="translate(413.23,389) scale(0.890,1)" font-size="17.6">Φ</text>
<text transform="translate(424.24,391.9) scale(1.272,1)" font-size="11.5" style="stroke-width:0.08px">0</text>
<text transform="translate(437.34,390.01) scale(1.560,1)" font-size="17.5">=</text>
<text transform="translate(456.73,389) scale(0.985,1)" font-size="17.8">0.1</text>
<text transform="translate(485.39,389) scale(1.036,1)" font-size="17.8">V</text>
<path d="M386.8,406.2H411" stroke="#da1425" stroke-width="1.8" stroke-dasharray="4.3 1.8 1.2 1.9"/>
<text transform="translate(413.23,410.5) scale(0.890,1)" font-size="17.6">Φ</text>
<text transform="translate(424.24,413.4) scale(1.272,1)" font-size="11.5" style="stroke-width:0.08px">0</text>
<text transform="translate(437.34,411.51) scale(1.560,1)" font-size="17.5">=</text>
<text transform="translate(456.74,410.5) scale(0.968,1)" font-size="17.8">0.3</text>
<text transform="translate(485.39,410.5) scale(1.036,1)" font-size="17.8">V</text>
<path d="M386.8,428H411" stroke="#da1425" stroke-width="2.0"/>
<text transform="translate(413.23,432.3) scale(0.890,1)" font-size="17.6">Φ</text>
<text transform="translate(424.24,435.2) scale(1.272,1)" font-size="11.5" style="stroke-width:0.08px">0</text>
<text transform="translate(437.34,433.31) scale(1.560,1)" font-size="17.5">=</text>
<text transform="translate(456.74,432.3) scale(0.968,1)" font-size="17.8">0.5</text>
<text transform="translate(485.39,432.3) scale(1.036,1)" font-size="17.8">V</text>
<circle cx="330.5" cy="508.6" r="18.5" fill="#0000f0" stroke="#0000b0" stroke-width="0.8"/>
<path d="M320.2,508.8H339.6" stroke="#fff" stroke-width="2"/>
<circle cx="404.2" cy="509.2" r="36.4" fill="#f00" stroke="#a00" stroke-width="1"/>
<path d="M394.8,509.8H414.5" stroke="#fff" stroke-width="2"/>
</svg></body></html>
